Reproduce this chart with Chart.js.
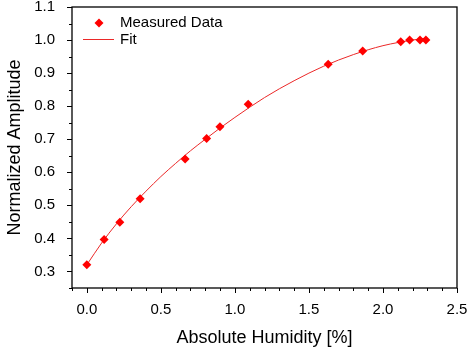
<!DOCTYPE html>
<html><head><meta charset="utf-8">
<script src="https://cdn.jsdelivr.net/npm/chart.js@4/dist/chart.umd.min.js"></script>
<style>html,body{margin:0;padding:0;background:#fff}#wrap{width:474px;height:363px}</style>
</head><body><div id="wrap"><canvas id="c" width="474" height="363"></canvas></div>
<script>
const humidity = [0.0, 0.117, 0.223, 0.36, 0.664, 0.809, 0.899, 1.09, 1.63, 1.863, 2.12, 2.18, 2.25, 2.29];
const amplitude = [0.32, 0.397, 0.449, 0.52, 0.64, 0.702, 0.738, 0.806, 0.927, 0.967, 0.995, 1.0, 1.0, 1.0];
const fitX = [0.0, 0.1, 0.2, 0.3, 0.4, 0.5, 0.6, 0.7, 0.8, 0.9, 1.0, 1.2, 1.4, 1.6, 1.8, 2.0, 2.2, 2.3];
const fitY = [0.32, 0.386, 0.444, 0.496, 0.543, 0.587, 0.627, 0.665, 0.70, 0.734, 0.766, 0.826, 0.877, 0.921, 0.956, 0.983, 1.0, 1.006];
const xTicks = [0.0, 0.5, 1.0, 1.5, 2.0, 2.5];
const yTicks = [0.3, 0.4, 0.5, 0.6, 0.7, 0.8, 0.9, 1.0, 1.1];
const xMinor = [-0.1, 0.1, 0.2, 0.3, 0.4, 0.6, 0.7, 0.8, 0.9, 1.1, 1.2, 1.3, 1.4, 1.6, 1.7, 1.8, 1.9, 2.1, 2.2, 2.3, 2.4];
const yMinor = [0.25, 0.35, 0.45, 0.55, 0.65, 0.75, 0.85, 0.95, 1.05];
const legendLabels = ['Measured Data', 'Fit'];

const RED = '#ff0000';
const FIT = 'rgb(235,40,40)';
const FONT = 'Liberation Sans, Arial, sans-serif';

const framePlugin = {
  id: 'frame',
  afterDraw(chart) {
    const ctx = chart.ctx, a = chart.chartArea;
    const xs = chart.scales.x, ys = chart.scales.y;
    ctx.save();
    ctx.strokeStyle = '#000';
    ctx.lineWidth = 1.3;
    ctx.strokeRect(a.left, a.top, a.right - a.left, a.bottom - a.top);
    ctx.lineWidth = 1;
    ctx.beginPath();
    xTicks.forEach(v => { const p = Math.round(xs.getPixelForValue(v)) + 0.5; ctx.moveTo(p, a.bottom); ctx.lineTo(p, a.bottom + 5); });
    xMinor.forEach(v => { const p = Math.round(xs.getPixelForValue(v)) + 0.5; ctx.moveTo(p, a.bottom); ctx.lineTo(p, a.bottom + 3); });
    yTicks.forEach(v => { const p = Math.round(ys.getPixelForValue(v)) + 0.5; ctx.moveTo(a.left, p); ctx.lineTo(a.left - 5, p); });
    yMinor.forEach(v => { const p = Math.round(ys.getPixelForValue(v)) + 0.5; ctx.moveTo(a.left, p); ctx.lineTo(a.left - 3, p); });
    ctx.stroke();
    // legend
    const lx = a.left + 27, ly1 = a.top + 16, ly2 = a.top + 32;
    ctx.fillStyle = RED;
    ctx.beginPath();
    ctx.moveTo(lx, ly1 - 4.5); ctx.lineTo(lx + 4.5, ly1); ctx.lineTo(lx, ly1 + 4.5); ctx.lineTo(lx - 4.5, ly1); ctx.closePath();
    ctx.fill();
    ctx.strokeStyle = FIT; ctx.lineWidth = 1;
    ctx.beginPath(); ctx.moveTo(a.left + 11, ly2 + 0.5); ctx.lineTo(a.left + 42, ly2 + 0.5); ctx.stroke();
    ctx.fillStyle = '#000';
    ctx.font = '15px ' + FONT;
    ctx.textBaseline = 'middle';
    ctx.textAlign = 'left';
    ctx.fillText(legendLabels[0], a.left + 48, ly1);
    ctx.fillText(legendLabels[1], a.left + 48, ly2 + 1);
    ctx.restore();
  }
};

new Chart(document.getElementById('c'), {
  type: 'scatter',
  data: {
    datasets: [
      {
        label: legendLabels[1],
        data: fitX.map((x, i) => ({x, y: fitY[i]})),
        showLine: true, borderColor: FIT, borderWidth: 1, pointRadius: 0,
        cubicInterpolationMode: 'monotone', fill: false, order: 2
      },
      {
        label: legendLabels[0],
        data: humidity.map((x, i) => ({x, y: amplitude[i]})),
        showLine: false, pointStyle: 'rectRot', pointRadius: 4.5,
        backgroundColor: RED, borderColor: RED, borderWidth: 0, order: 1
      }
    ]
  },
  options: {
    responsive: false, animation: false, devicePixelRatio: 1,
    layout: { padding: { left: 0, top: 7, right: 17, bottom: 0 } },
    plugins: { legend: { display: false }, tooltip: { enabled: false } },
    scales: {
      x: {
        type: 'linear', min: -0.1, max: 2.5,
        grid: { display: false }, border: { display: false },
        afterBuildTicks: s => { s.ticks = xTicks.map(v => ({value: v})); },
        afterFit: s => { s.height = 75; s.paddingLeft = 0; s.paddingRight = 0; },
        ticks: { color: '#000', font: { family: FONT, size: 15 }, padding: 5, maxRotation: 0, autoSkip: false,
          callback: v => Number(v).toFixed(1) },
        title: { display: true, text: 'Absolute Humidity [%]', color: '#000', font: { family: FONT, size: 18 }, padding: { top: 0, bottom: 14 } }
      },
      y: {
        type: 'linear', min: 0.25, max: 1.1,
        grid: { display: false }, border: { display: false },
        afterBuildTicks: s => { s.ticks = yTicks.map(v => ({value: v})); },
        afterFit: s => { s.width = 72; s.paddingTop = 0; s.paddingBottom = 0; },
        ticks: { color: '#000', font: { family: FONT, size: 15 }, padding: 9, autoSkip: false,
          callback: v => Number(v).toFixed(1) },
        title: { display: true, text: 'Normalized Amplitude', color: '#000', font: { family: FONT, size: 18 }, padding: { top: 4, bottom: 0 } }
      }
    }
  },
  plugins: [framePlugin]
});
</script>
</body></html>
